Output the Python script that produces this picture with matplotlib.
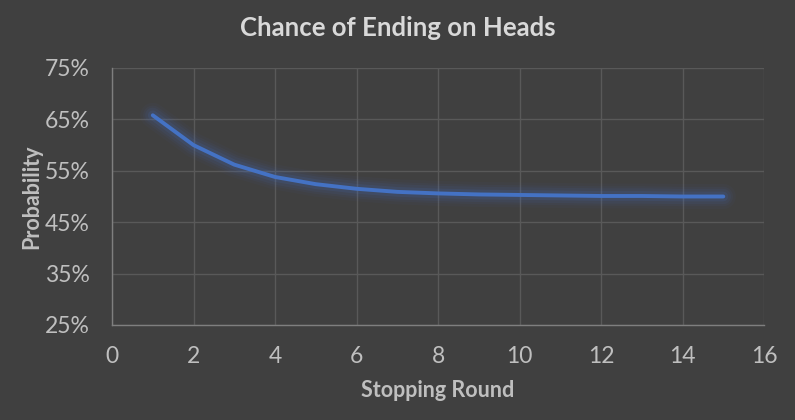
import numpy as np
import matplotlib
matplotlib.use("Agg")
import matplotlib.pyplot as plt
from matplotlib.ticker import FuncFormatter, MultipleLocator

# ── Data ───────────────────────────────────────────────────────────────────
rounds = [1, 2, 3, 4, 5, 6, 7, 8, 9, 10, 11, 12, 13, 14, 15]
prob_heads = [0.658, 0.600, 0.562, 0.538, 0.524, 0.515, 0.509, 0.506,
              0.504, 0.503, 0.502, 0.501, 0.501, 0.500, 0.500]

BG = "#404040"
GRID = "#595959"
LINE = "#4472C4"
TXT = "#bfbfbf"

plt.rcParams["font.family"] = ["Lato", "DejaVu Sans"]

fig = plt.figure(figsize=(7.95, 4.2), dpi=100)
fig.patch.set_facecolor(BG)
ax = fig.add_axes([0.1409, 0.2262, 0.8202, 0.6119])
ax.set_facecolor(BG)

# soft glow under the line
for w, a in [(18, 0.04), (14, 0.06), (11, 0.08), (7, 0.13)]:
    ax.plot(rounds, prob_heads, color=LINE, linewidth=w, alpha=a,
            solid_capstyle="round", solid_joinstyle="round")
ax.plot(rounds, prob_heads, color=LINE, linewidth=2.8,
        solid_capstyle="round", solid_joinstyle="round")

ax.set_xlim(0, 16)
ax.set_ylim(0.25, 0.75)
ax.xaxis.set_major_locator(MultipleLocator(2))
ax.set_yticks(np.arange(0.25, 0.751, 0.10))
ax.yaxis.set_major_formatter(FuncFormatter(lambda v, p: f"{v*100:.0f}%"))

ax.grid(True, color=GRID, linewidth=1)
ax.set_axisbelow(True)
for side in ["top", "right"]:
    ax.spines[side].set_visible(False)
for side in ["left", "bottom"]:
    ax.spines[side].set_color("#7f7f7f")
    ax.spines[side].set_linewidth(1)
ax.tick_params(axis="y", length=0, colors=TXT, labelsize=16.5, pad=16)
ax.tick_params(axis="x", length=0, colors=TXT, labelsize=16.5, pad=15)

fig.text(0.5, 0.933, "Chance of Ending on Heads", color="#d9d9d9",
         fontsize=18.5, fontweight="bold", ha="center", va="center")
ax.set_xlabel("Stopping Round", color=TXT, fontsize=15.5, fontweight="bold")
ax.set_ylabel("Probability", color=TXT, fontsize=15.5, fontweight="bold")
ax.xaxis.set_label_coords(0.5, -0.255)
ax.yaxis.set_label_coords(-0.1227, 0.5)
ax.xaxis.label.set_va("center")
ax.yaxis.label.set_va("center")

fig.savefig("out.png", dpi=100, facecolor=fig.get_facecolor())
